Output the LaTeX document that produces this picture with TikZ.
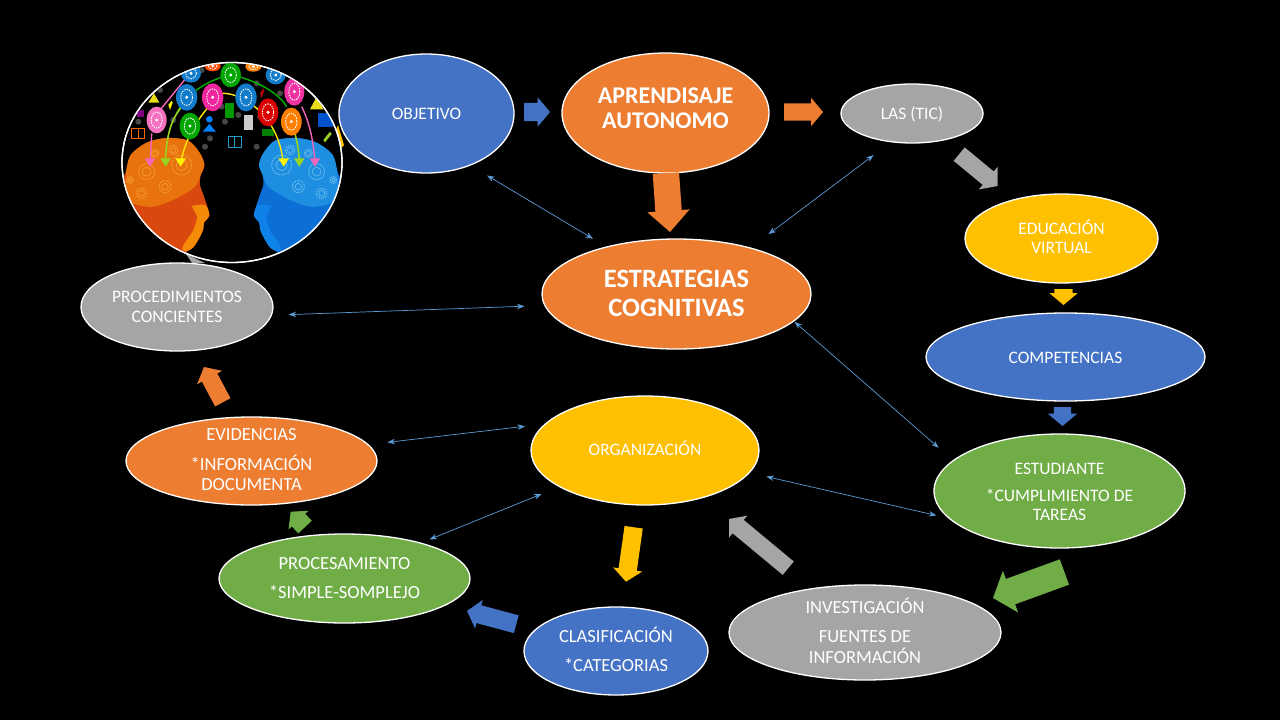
\documentclass[tikz,border=0pt]{standalone}
\usepackage{fontspec}
\setmainfont{Carlito}
\usetikzlibrary{shapes,arrows,arrows.meta}

\definecolor{ofblue}{HTML}{4472C4}
\definecolor{oforange}{HTML}{ED7D31}
\definecolor{ofgray}{HTML}{A5A5A5}
\definecolor{ofyellow}{HTML}{FFC000}
\definecolor{ofgreen}{HTML}{70AD47}
\definecolor{linkblue}{HTML}{5B9BD5}

% label text, does not push the ellipse wider or taller
\newcommand{\lbl}[2][.35em]{\raisebox{-#1}[0pt][0pt]{\begin{tabular}{@{}c@{}}#2\end{tabular}}}
\newcommand{\gap}{\\[7pt]}
\newcommand{\gapb}{\\[9pt]}

% one head of the photo, in the zoomed coordinates
\newcommand{\drawhead}[4]{
	\fill[#1] plot[smooth] coordinates {(30,400) (48,365) (62,315) (110,278) (170,264) (235,272) (270,310) (283,345) (272,375) (270,405) (282,440) (298,495) (282,518) (280,537) (270,560) (250,592) (228,606)} -- (100,720) -- (0,720) -- cycle;
	\fill[#2] plot[smooth] coordinates {(48,365) (62,315) (110,278) (170,264) (235,272) (270,310) (283,345) (272,375) (255,410) (200,445) (130,470) (70,460) (45,420)} -- cycle;
	\fill[#3] plot[smooth] coordinates {(245,468) (285,465) (298,495) (282,518) (280,537) (270,560) (250,592) (225,604) (218,590) (250,540) (262,500)} -- cycle;
	\foreach \gx/\gy/\gr in {215/345/30,110/365/24,95/430/16,165/410/18,190/300/14,60/390/10,135/310/12} {
		\draw[#4,line width=.9pt,dash pattern=on 1.5pt off 1pt] (\gx,\gy) circle[radius=\gr];
		\draw[#4,line width=.6pt] (\gx,\gy) circle[radius=\gr*0.55];
	}
}

\definecolor{heador}{HTML}{D9480F}
\definecolor{brainor}{HTML}{E8720C}
\definecolor{faceor}{HTML}{F58A07}
\definecolor{gearor}{HTML}{F7A23B}
\definecolor{headbl}{HTML}{0B6FD6}
\definecolor{brainbl}{HTML}{1E8FE0}
\definecolor{facebl}{HTML}{0F82EA}
\definecolor{gearbl}{HTML}{6FC0F0}

\begin{document}
\begin{tikzpicture}[x=1pt,y=-1pt]
	\useasboundingbox (0,0) rectangle (1280,720);
	\fill[black] (0,0) rectangle (1280,720);

	\tikzstyle{o-node}=[ellipse,draw=white,line width=1.3pt,text=white,inner sep=0pt,outer sep=0pt,font=\fontsize{17.5}{19.5}\selectfont]
	\tikzstyle{big-node}=[font=\fontsize{18.5}{20}\selectfont]
	\tikzstyle{blue-node}=[o-node,fill=ofblue]
	\tikzstyle{orange-node}=[o-node,fill=oforange]
	\tikzstyle{gray-node}=[o-node,fill=ofgray]
	\tikzstyle{yellow-node}=[o-node,fill=ofyellow]
	\tikzstyle{green-node}=[o-node,fill=ofgreen]
	% block arrows, placed by the tip, inner ysep gives half the shaft
	\tikzstyle{blockarrow}=[single arrow,anchor=tip,draw=none,inner xsep=0pt,inner ysep=9pt,outer sep=0pt,single arrow tip angle=100,single arrow head extend=5.5pt]
	% thin links
	\tikzstyle{link}=[draw=linkblue,line width=.7pt,{Stealth[length=7.5pt,width=5.5pt]}-{Stealth[length=7.5pt,width=5.5pt]}]

	% arrows that end behind the photo
	\fill[ofgray] (186,254) -- (205,263) -- (192,263) -- cycle;
	\fill[ofyellow] (338,125) -- (344,145) -- (341,148) -- (336,130) -- cycle;

	% the photo
	\node[ellipse,draw=white,line width=1.3pt,fill=black,inner sep=0pt,outer sep=0pt,minimum width=220pt,minimum height=200pt] (photo) at (232,162.5) {};
	\begin{scope}
		\clip (232,162.5) ellipse[x radius=110,y radius=100];
		\begin{scope}[shift={(110,50)},x=.33333pt,y=-.33333pt]
			\foreach \cx/\cy in {85/215,150/120,190/210,275/60,345/215,335/170,385/195,450/200,440/100,510/130,590/100,300/265,205/290,440/290,100/130,285/290,530/240,620/120} {
				\fill[black!72] (\cx,\cy) circle[radius=9];
			}
			\drawhead{heador}{brainor}{faceor}{gearor}
			\begin{scope}[shift={(730,0)},xscale=-1]
				\drawhead{headbl}{brainbl}{facebl}{gearbl}
			\end{scope}
			% little icons behind the bubbles
			\draw[orange!80!red,line width=.9pt] (65,235) rectangle (102,265) (84,235) -- (84,265);
			\draw[cyan!80!black,line width=.9pt] (355,260) rectangle (393,292) (374,260) -- (374,292);
			\fill[green!60!black] (345,160) rectangle (372,205);
			\fill[gray!40] (402,195) rectangle (430,240);
			\fill[green!50!black] (455,238) rectangle (492,258);
			\fill[blue!50!cyan] (298,208) circle[radius=10] (278,245) -- (298,222) -- (318,245) -- cycle;
			\fill[yellow!90!black] (115,158) -- (132,130) -- (148,158) -- cycle;
			\fill[yellow!90!black] (600,178) -- (620,140) -- (640,178) -- cycle;
			\fill[blue!60!cyan!80!black] (625,190) rectangle (668,232);
			\fill[yellow!60!green] (640,270) -- (660,245) -- (665,252) -- (645,277) -- cycle;
			\fill[yellow] (175,165) -- (185,152) -- (188,158) -- (180,180) -- cycle;
			\fill[red!70!black] (450,130) -- (460,115) -- (463,120) -- (455,145) -- cycle;
			\fill[violet] (80,180) rectangle (102,200);
			% curved arrows
			\draw[green!70!black,line width=1.4pt] (200,190) .. controls (235,120) and (310,85) .. (362,75) .. controls (420,85) and (500,120) .. (530,170);
			\draw[yellow!90!orange,line width=1.4pt] (212,345) .. controls (218,280) and (270,180) .. (340,130) .. controls (400,130) and (510,200) .. (520,345);
			\draw[magenta!60!white,line width=1.4pt] (120,345) -- (125,250) (150,180) -- (240,70);
			\draw[magenta!60!white,line width=1.4pt] (575,170) .. controls (600,220) and (612,280) .. (615,345);
			\draw[yellow!60!green,line width=1.6pt] (165,345) .. controls (170,270) and (175,220) .. (215,170);
			\draw[yellow!60!green,line width=1.6pt] (568,345) .. controls (568,300) and (560,270) .. (552,240);
			\fill[magenta!60!white] (120,350) -- (104,325) -- (136,325) -- cycle;
			\fill[yellow!60!green] (167,350) -- (151,325) -- (183,325) -- cycle;
			\fill[yellow] (212,350) -- (196,325) -- (228,325) -- cycle;
			\fill[yellow] (521,350) -- (505,325) -- (537,325) -- cycle;
			\fill[yellow!60!green] (568,350) -- (552,325) -- (584,325) -- cycle;
			\fill[magenta!60!white] (615,350) -- (599,325) -- (631,325) -- cycle;
			% bubbles
			\foreach \bx/\by/\brx/\bry/\bcol in {
				140/210/30/40/magenta!55!white,
				230/142/32/40/cyan!60!blue,
				240/228/31/40/green!65!black,
				308/142/32/42/magenta!85!white,
				362/75/31/37/green!65!black,
				408/142/32/42/cyan!60!blue,
				474/187/31/42/red!85!black,
				544/215/31/42/orange,
				553/125/30/42/magenta!80!white,
				497/75/30/28/cyan!60!blue,
				243/70/30/28/cyan!60!blue,
				308/48/24/16/orange!60!red,
				430/50/24/15/orange} {
				\fill[\bcol] (\bx,\by) ellipse[x radius=\brx,y radius=\bry];
				\draw[white,line width=.9pt,dash pattern=on 1.5pt off 1pt] (\bx,\by) ellipse[x radius=\brx*.55,y radius=\bry*.6];
				\fill[white] (\bx,\by) circle[radius=5];
			}
		\end{scope}
	\end{scope}
	\draw[white,line width=1.3pt] (232,162.5) ellipse[x radius=110,y radius=100];

	% ellipses
	\node[blue-node,minimum width=175pt,minimum height=119pt] (objetivo) at (426.5,113.5) {\lbl{OBJETIVO}};
	\node[orange-node,minimum width=207pt,minimum height=120pt,font=\fontsize{24}{25}\selectfont\bfseries] (aprendisaje) at (665.5,113) {\lbl[4pt]{APRENDISAJE\\AUTONOMO}};
	\node[gray-node,minimum width=142pt,minimum height=59pt] (tic) at (912,113.5) {\lbl{LAS (TIC)}};
	\node[yellow-node,minimum width=193pt,minimum height=89pt] (educacion) at (1061.5,238.5) {\lbl[.3em]{EDUCACIÓN\\VIRTUAL}};
	\node[blue-node,minimum width=279pt,minimum height=88pt] (competencias) at (1065.5,357) {\lbl[.4em]{COMPETENCIAS}};
	\node[green-node,minimum width=251pt,minimum height=114pt] (estudiante) at (1059.5,491) {\lbl[.4em]{ESTUDIANTE\gap *CUMPLIMIENTO DE\\TAREAS}};
	\node[gray-node,big-node,minimum width=272pt,minimum height=95pt] (investigacion) at (865,632.5) {\lbl[.3em]{INVESTIGACIÓN\gapb FUENTES DE\\INFORMACIÓN}};
	\node[blue-node,big-node,minimum width=184pt,minimum height=88pt] (clasificacion) at (616,651) {\lbl[.3em]{CLASIFICACIÓN\gapb *CATEGORIAS}};
	\node[green-node,big-node,minimum width=251pt,minimum height=89pt] (procesamiento) at (344.5,578.5) {\lbl[.3em]{PROCESAMIENTO\gapb *SIMPLE-SOMPLEJO}};
	\node[orange-node,big-node,minimum width=251pt,minimum height=88pt] (evidencias) at (251.5,461) {\lbl[.25em]{EVIDENCIAS\gapb *INFORMACIÓN\\DOCUMENTA}};
	\node[gray-node,minimum width=192pt,minimum height=88pt] (procedimientos) at (177,307) {\lbl{PROCEDIMIENTOS\\CONCIENTES}};
	\node[yellow-node,minimum width=228pt,minimum height=109pt] (organizacion) at (645,450.5) {\lbl[.3em]{ORGANIZACIÓN}};
	\node[orange-node,minimum width=269pt,minimum height=110pt,font=\fontsize{26.5}{29}\selectfont\bfseries] (estrategias) at (676.5,294) {\lbl[.3em]{ESTRATEGIAS\\COGNITIVAS}};

	% block arrows round the ring
	\node[blockarrow,fill=ofblue,minimum height=26pt] (a1) at (550,112) {};
	\node[blockarrow,fill=oforange,minimum height=39pt,inner ysep=8.5pt] (a2) at (823,112) {};
	\node[blockarrow,fill=oforange,minimum height=59pt,inner ysep=13pt,single arrow head extend=8pt,single arrow tip angle=90,rotate=-86] (a3) at (670,232) {};
	\node[blockarrow,fill=ofgray,minimum height=50pt,inner ysep=8.5pt,single arrow head extend=6pt,rotate=-39.6] (a4) at (997.7,186) {};
	\node[blockarrow,fill=ofyellow,minimum height=16pt,single arrow head extend=5pt,rotate=-90] (a5) at (1063.5,305) {};
	\node[blockarrow,fill=ofblue,minimum height=19pt,inner ysep=8.5pt,single arrow head extend=6pt,rotate=-90] (a6) at (1062.5,426) {};
	\node[blockarrow,fill=ofgreen,minimum height=76pt,inner ysep=13.3pt,single arrow head extend=8.7pt,rotate=200] (a7) at (993,598) {};
	\node[blockarrow,fill=ofgray,minimum height=77pt,inner ysep=8.5pt,rotate=140.3] (a8) at (729,519) {};
	\node[blockarrow,fill=ofyellow,minimum height=55pt,rotate=-98] (a9) at (626,581.7) {};
	\node[blockarrow,fill=ofblue,minimum height=51pt,rotate=165] (a10) at (467,611) {};
	\node[blockarrow,fill=ofgreen,minimum height=21pt,single arrow head extend=4.5pt,rotate=133] (a11) at (290.7,511.7) {};
	\node[blockarrow,fill=oforange,minimum height=40pt,inner ysep=8.5pt,rotate=118] (a12) at (204,367) {};

	% thin links to the centre
	\path
		(objetivo.-50.5)	edge[link,shorten <=20pt,shorten >=16pt]	(estrategias.146.5)
		(tic.234.7)		edge[link,shorten <=22.3pt,shorten >=23pt]	(estrategias.32.7)
		(procedimientos.-5.85)	edge[link,shorten <=17.3pt,shorten >=20.5pt]	(estrategias.185.3)
		(estrategias.-13.7)	edge[link,shorten <=1.3pt,shorten >=19.5pt]	(estudiante.164.9)
		(organizacion.-12.3)	edge[link,shorten <=17.7pt,shorten >=13.5pt]	(estudiante.194.4)
		(evidencias.8.3)	edge[link,shorten <=19.6pt,shorten >=20.7pt]	(organizacion.165.6)
		(procesamiento.25.8)	edge[link,shorten <=9.9pt,shorten >=19.5pt]	(organizacion.203.2);
\end{tikzpicture}
\end{document}
